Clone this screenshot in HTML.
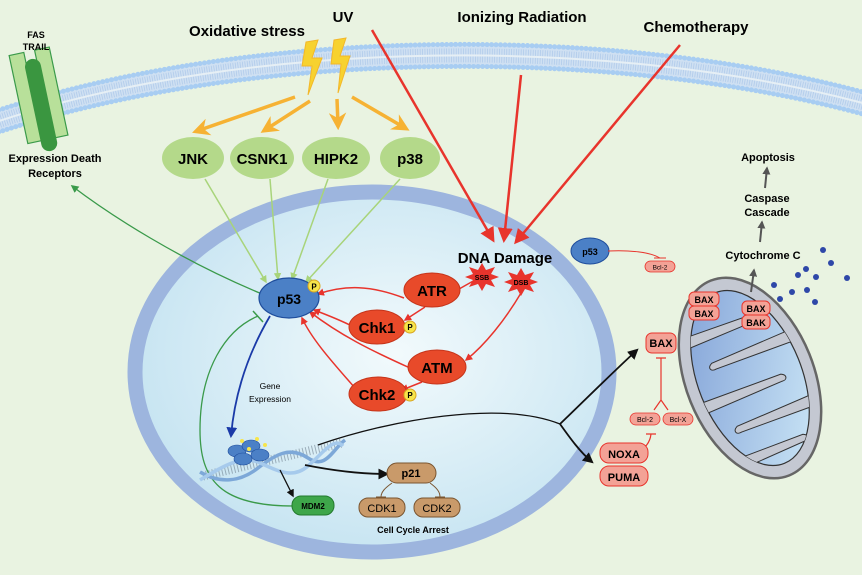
<!DOCTYPE html>
<html><head><meta charset="utf-8"><style>
html,body{margin:0;padding:0;background:#e9f3e1;}
svg{display:block;font-family:"Liberation Sans",sans-serif;}
</style></head><body>
<svg width="862" height="575" viewBox="0 0 862 575" xmlns="http://www.w3.org/2000/svg">
<defs>
<radialGradient id="nuc" cx="0.55" cy="0.45" r="0.6">
<stop offset="0" stop-color="#f2fafc"/><stop offset="1" stop-color="#c4e3f1"/></radialGradient>
<linearGradient id="mit" x1="0" y1="0" x2="1" y2="1">
<stop offset="0" stop-color="#7f9fd6"/><stop offset="1" stop-color="#cfeaf8"/></linearGradient>
<clipPath id="mclip"><ellipse cx="0" cy="0" rx="52" ry="92"/></clipPath>
<marker id="ar" viewBox="0 0 10 10" refX="8" refY="5" markerWidth="5" markerHeight="5" orient="auto"><path d="M0,0L10,5L0,10z" fill="#e8342c"/></marker>
<marker id="arB" viewBox="0 0 10 10" refX="8" refY="5" markerWidth="6" markerHeight="6" orient="auto"><path d="M0,0L10,5L0,10z" fill="#e8342c"/></marker>
<marker id="ag" viewBox="0 0 10 10" refX="8" refY="5" markerWidth="5" markerHeight="5" orient="auto"><path d="M0,0L10,5L0,10z" fill="#a8d47a"/></marker>
<marker id="agr" viewBox="0 0 10 10" refX="8" refY="5" markerWidth="6" markerHeight="6" orient="auto"><path d="M0,0L10,5L0,10z" fill="#3a9a4a"/></marker>
<marker id="abl" viewBox="0 0 10 10" refX="8" refY="5" markerWidth="6" markerHeight="6" orient="auto"><path d="M0,0L10,5L0,10z" fill="#1a3aa8"/></marker>
<marker id="ak" viewBox="0 0 10 10" refX="8" refY="5" markerWidth="6" markerHeight="6" orient="auto"><path d="M0,0L10,5L0,10z" fill="#111"/></marker>
<marker id="agy" viewBox="0 0 10 10" refX="8" refY="5" markerWidth="4" markerHeight="4" orient="auto"><path d="M0,0L10,5L0,10z" fill="#555"/></marker>
<marker id="ao" viewBox="0 0 10 10" refX="7" refY="5" markerWidth="5" markerHeight="5" orient="auto"><path d="M0,0L10,5L0,10L3,5z" fill="#f6b233"/></marker>
</defs>

<!-- membrane -->
<g fill="none">
<path d="M-10 124 C250 36,620 36,870 105" stroke="#cfe0f2" stroke-width="24"/>
<path d="M-10 124 C250 36,620 36,870 105" stroke="#a9c6e8" stroke-width="14" stroke-dasharray="0.8 1.6" opacity="0.8"/>
<path d="M-10 124 C250 36,620 36,870 105" stroke="#e6eff5" stroke-width="2"/>
<path d="M-10 113 C250 25,620 25,870 94" stroke="#a8cdf2" stroke-width="5" stroke-dasharray="0.1 4.4" stroke-linecap="round"/>
<path d="M-10 135 C250 47,620 47,870 116" stroke="#a8cdf2" stroke-width="5" stroke-dasharray="0.1 4.4" stroke-linecap="round"/>
</g>

<!-- FAS receptor -->
<g transform="rotate(-12 40 95)">
<rect x="18" y="50" width="15" height="90" fill="#b8e09a" stroke="#3a9a4a" stroke-width="1.2"/>
<rect x="44" y="50" width="15" height="90" fill="#b8e09a" stroke="#3a9a4a" stroke-width="1.2"/>
<rect x="31" y="58" width="16" height="94" rx="8" fill="#3a9640"/>
</g>
<text x="36" y="38" font-size="9" font-weight="bold" text-anchor="middle">FAS</text>
<text x="36" y="50" font-size="9" font-weight="bold" text-anchor="middle">TRAIL</text>
<text x="55" y="162" font-size="11" font-weight="bold" text-anchor="middle">Expression Death</text>
<text x="55" y="177" font-size="11" font-weight="bold" text-anchor="middle">Receptors</text>

<!-- top labels -->
<text x="247" y="36" font-size="15" font-weight="bold" text-anchor="middle">Oxidative stress</text>
<text x="343" y="22" font-size="15" font-weight="bold" text-anchor="middle">UV</text>
<text x="522" y="22" font-size="15" font-weight="bold" text-anchor="middle">Ionizing Radiation</text>
<text x="696" y="32" font-size="15" font-weight="bold" text-anchor="middle">Chemotherapy</text>

<!-- nucleus -->
<ellipse cx="372" cy="372" rx="237" ry="180" fill="url(#nuc)" stroke="#9db5de" stroke-width="15"/>

<!-- lightning -->
<path d="M306 42 L318 40 L312 58 L322 58 L308 95 L312 66 L302 66 Z" fill="#f7d22f" stroke="#f3b72a" stroke-width="1"/>
<path d="M334 40 L346 38 L340 56 L350 56 L338 93 L341 64 L331 64 Z" fill="#f7d22f" stroke="#f3b72a" stroke-width="1"/>

<!-- orange arrows -->
<g stroke="#f6b233" stroke-width="3.5" fill="none" marker-end="url(#ao)">
<path d="M295 97 L197 131"/>
<path d="M310 101 L265 130"/>
<path d="M337 99 L338 125"/>
<path d="M352 97 L405 128"/>
</g>

<!-- kinase ellipses -->
<g fill="#b4d98a">
<ellipse cx="193" cy="158" rx="31" ry="21"/>
<ellipse cx="262" cy="158" rx="32" ry="21"/>
<ellipse cx="336" cy="158" rx="34" ry="21"/>
<ellipse cx="410" cy="158" rx="30" ry="21"/>
</g>
<g font-size="15" font-weight="bold" text-anchor="middle">
<text x="193" y="164">JNK</text><text x="262" y="164">CSNK1</text><text x="336" y="164">HIPK2</text><text x="410" y="164">p38</text>
</g>
<g stroke="#a8d47a" stroke-width="1.5" fill="none" marker-end="url(#ag)">
<path d="M205 179 L266 282"/>
<path d="M270 179 L278 279"/>
<path d="M328 179 L292 279"/>
<path d="M400 179 L306 282"/>
</g>

<!-- red stimulus lines -->
<g stroke="#e8342c" stroke-width="2.5" fill="none" marker-end="url(#arB)">
<path d="M372 30 L493 240"/>
<path d="M521 75 L504 240"/>
<path d="M680 45 L516 242"/>
</g>

<!-- green arrow to receptors -->
<path d="M262 294 C180 260,110 215,72 186" stroke="#3a9a4a" stroke-width="1.3" fill="none" marker-end="url(#agr)"/>
<!-- green inhibition MDM2 -> p53 -->
<path d="M294 506 C220 506,200 480,200 430 C200 370,225 330,258 316" stroke="#3a9a4a" stroke-width="1.3" fill="none"/>
<path d="M253 311 L263 322" stroke="#3a9a4a" stroke-width="1.5"/>

<!-- red kinase arrows -->
<g stroke="#e8342c" stroke-width="1.5" fill="none" marker-end="url(#ar)">
<path d="M404 298 C370 285,345 285,318 294"/>
<path d="M425 307 L405 320"/>
<path d="M354 327 C340 320,330 316,314 310"/>
<path d="M410 368 C370 350,340 335,310 312"/>
<path d="M422 382 L402 390"/>
<path d="M355 388 C335 365,312 340,302 318"/>
<path d="M475 280 L452 293"/>
<path d="M521 293 C505 320,485 345,466 360"/>
</g>

<!-- p53 -->
<ellipse cx="289" cy="298" rx="30" ry="20" fill="#4b80c6" stroke="#1f4d9c" stroke-width="1.2"/>
<text x="289" y="304" font-size="14" font-weight="bold" text-anchor="middle">p53</text>
<circle cx="314" cy="286" r="6" fill="#f7e54b" stroke="#d8a520"/>
<text x="314" y="289.5" font-size="8" font-weight="bold" text-anchor="middle">P</text>

<!-- kinases -->
<g fill="#e84a2a" stroke="#c5341a" stroke-width="1">
<ellipse cx="432" cy="290" rx="28" ry="17"/>
<ellipse cx="377" cy="327" rx="28" ry="17"/>
<ellipse cx="437" cy="367" rx="29" ry="17"/>
<ellipse cx="378" cy="394" rx="29" ry="17"/>
</g>
<g font-size="15" font-weight="bold" text-anchor="middle">
<text x="432" y="296">ATR</text><text x="377" y="333">Chk1</text><text x="437" y="373">ATM</text><text x="377" y="400">Chk2</text>
</g>
<g fill="#f7e54b" stroke="#d8a520"><circle cx="410" cy="327" r="6"/><circle cx="410" cy="395" r="6"/></g>
<g font-size="8" font-weight="bold" text-anchor="middle"><text x="410" y="330">P</text><text x="410" y="398">P</text></g>

<!-- stars -->
<polygon points="482,263 486,270 495,267 491,274 499,277 491,280 495,287 486,284 482,291 478,284 469,287 473,280 465,277 473,274 469,267 478,270" fill="#e8342c"/>
<polygon points="521,268 525,275 534,272 530,279 538,282 530,285 534,292 525,289 521,296 517,289 508,292 512,285 504,282 512,279 508,272 517,275" fill="#e8342c"/>
<text x="482" y="280" font-size="7" font-weight="bold" text-anchor="middle">SSB</text>
<text x="521" y="285" font-size="7" font-weight="bold" text-anchor="middle">DSB</text>
<text x="505" y="263" font-size="15" font-weight="bold" text-anchor="middle">DNA Damage</text>

<!-- gene expression -->
<text x="270" y="389" font-size="8.5" text-anchor="middle">Gene</text>
<text x="270" y="402" font-size="8.5" text-anchor="middle">Expression</text>
<path d="M270 316 C250 350,235 390,231 436" stroke="#1a3aa8" stroke-width="1.8" fill="none" marker-end="url(#abl)"/>

<!-- DNA helix -->
<g fill="none">
<path d="M203 476 L342 443" stroke="#6a7a88" stroke-width="9" stroke-dasharray="1 2.2" opacity="0.55"/>
<path d="M200 472 C220 484,240 482,258 468 C276 454,290 446,308 458 C326 470,332 450,345 440" stroke="#7da8d8" stroke-width="3.5"/>
<path d="M200 480 C220 468,240 455,258 462 C276 470,292 480,308 466 C322 454,334 436,343 446" stroke="#a6caec" stroke-width="3.5"/>
</g>
<g fill="#4b80c6" stroke="#1f4d9c" stroke-width="0.6">
<ellipse cx="237" cy="451" rx="9" ry="6"/><ellipse cx="251" cy="446" rx="9" ry="6"/><ellipse cx="243" cy="459" rx="9" ry="6"/><ellipse cx="260" cy="455" rx="9" ry="6"/>
</g>
<g fill="#f7e54b"><circle cx="242" cy="441" r="2"/><circle cx="257" cy="439" r="2"/><circle cx="265" cy="445" r="2"/><circle cx="249" cy="449" r="2"/></g>

<!-- black arrows -->
<path d="M280 470 L293 496" stroke="#111" stroke-width="1.3" fill="none" marker-end="url(#ak)"/>
<path d="M305 465 C330 470,360 474,387 474" stroke="#111" stroke-width="1.8" fill="none" marker-end="url(#ak)"/>
<path d="M318 445 C390 420,500 400,560 424" stroke="#111" stroke-width="1.3" fill="none"/>
<path d="M560 424 C585 400,610 375,637 350" stroke="#111" stroke-width="1.8" fill="none" marker-end="url(#ak)"/>
<path d="M560 424 C570 438,580 452,592 462" stroke="#111" stroke-width="1.8" fill="none" marker-end="url(#ak)"/>

<!-- MDM2, p21 -->
<rect x="292" y="496" width="42" height="19" rx="9" fill="#3ea64a" stroke="#237a2e"/>
<text x="313" y="509" font-size="8" font-weight="bold" text-anchor="middle">MDM2</text>
<rect x="387" y="463" width="49" height="20" rx="10" fill="#c99a6a" stroke="#7a5530"/>
<text x="411" y="477" font-size="11" font-weight="bold" text-anchor="middle">p21</text>
<path d="M392 483 C385 488,381 492,381 497 M376 497 L386 497 M430 483 C437 488,440 492,440 497 M435 497 L445 497" stroke="#7a5530" stroke-width="1" fill="none"/>
<rect x="359" y="498" width="46" height="19" rx="9" fill="#c99a6a" stroke="#7a5530"/>
<rect x="414" y="498" width="46" height="19" rx="9" fill="#c99a6a" stroke="#7a5530"/>
<text x="382" y="512" font-size="11" text-anchor="middle">CDK1</text>
<text x="437" y="512" font-size="11" text-anchor="middle">CDK2</text>
<text x="413" y="533" font-size="9" font-weight="bold" text-anchor="middle">Cell Cycle Arrest</text>

<!-- p53 small and Bcl-2 -->
<ellipse cx="590" cy="251" rx="19" ry="13" fill="#4b80c6" stroke="#1f4d9c"/>
<text x="590" y="255" font-size="9" font-weight="bold" text-anchor="middle">p53</text>
<path d="M608 251 C630 250,650 252,660 258 M654 258 L666 258" stroke="#e8342c" stroke-width="1" fill="none"/>
<rect x="645" y="261" width="30" height="11" rx="5.5" fill="#f3a296" stroke="#e8342c" stroke-width="0.8"/>
<text x="660" y="269.5" font-size="6.5" text-anchor="middle">Bcl-2</text>

<!-- mitochondrion -->
<g transform="translate(750 378) rotate(-22)">
<ellipse cx="0" cy="0" rx="64" ry="105" fill="#c4c8d2" stroke="#666" stroke-width="2.5"/>
<ellipse cx="0" cy="0" rx="52" ry="92" fill="url(#mit)" stroke="#333" stroke-width="1.2"/>
<g clip-path="url(#mclip)" fill="#c4c8d2" stroke="#333" stroke-width="1">
<path d="M-60 -62 L30 -58 C36 -55,34 -50,28 -51 L-60 -50Z"/>
<path d="M60 -30 L-30 -28 C-36 -25,-34 -20,-28 -21 L60 -18Z"/>
<path d="M-60 5 L30 8 C36 11,34 16,28 15 L-60 17Z"/>
<path d="M60 38 L-30 40 C-36 43,-34 48,-28 47 L60 50Z"/>
<path d="M-60 70 L28 72 C34 75,32 80,26 79 L-60 82Z"/>
</g>
</g>
<g font-size="9" font-weight="bold" text-anchor="middle" >
<rect x="689" y="292" width="30" height="14" rx="5" fill="#f3a296" stroke="#e8342c"/><text x="704" y="303">BAX</text>
<rect x="689" y="306" width="30" height="14" rx="5" fill="#f3a296" stroke="#e8342c"/><text x="704" y="317">BAX</text>
<rect x="742" y="301" width="28" height="14" rx="5" fill="#f3a296" stroke="#e8342c"/><text x="756" y="312">BAX</text>
<rect x="742" y="315" width="28" height="14" rx="5" fill="#f3a296" stroke="#e8342c"/><text x="756" y="326">BAK</text>
</g>
<g fill="#2e47a8">
<circle cx="823" cy="250" r="3"/><circle cx="831" cy="263" r="3"/><circle cx="806" cy="269" r="3"/><circle cx="798" cy="275" r="3"/><circle cx="816" cy="277" r="3"/><circle cx="847" cy="278" r="3"/><circle cx="774" cy="285" r="3"/><circle cx="792" cy="292" r="3"/><circle cx="807" cy="290" r="3"/><circle cx="780" cy="299" r="3"/><circle cx="815" cy="302" r="3"/>
</g>

<!-- right pathway -->
<g stroke="#555" stroke-width="2" fill="none" marker-end="url(#agy)">
<path d="M751 292 L754 270"/><path d="M760 242 L762 222"/><path d="M765 188 L767 168"/>
</g>
<text x="763" y="259" font-size="11" font-weight="bold" text-anchor="middle">Cytochrome C</text>
<text x="767" y="202" font-size="11" font-weight="bold" text-anchor="middle">Caspase</text>
<text x="767" y="216" font-size="11" font-weight="bold" text-anchor="middle">Cascade</text>
<text x="768" y="161" font-size="11" font-weight="bold" text-anchor="middle">Apoptosis</text>

<rect x="646" y="333" width="30" height="20" rx="6" fill="#f3a296" stroke="#e8342c"/>
<text x="661" y="347" font-size="11" font-weight="bold" text-anchor="middle">BAX</text>
<g stroke="#e8342c" stroke-width="1.2" fill="none">
<path d="M656 358 L666 358 M661 358 L661 400 L654 410 M661 400 L668 410"/>
<path d="M646 434 L656 434 M651 434 C650 443,645 448,638 452"/>
</g>
<rect x="630" y="413" width="30" height="12" rx="6" fill="#f3a296" stroke="#e8342c" stroke-width="0.8"/>
<rect x="663" y="413" width="30" height="12" rx="6" fill="#f3a296" stroke="#e8342c" stroke-width="0.8"/>
<text x="645" y="422" font-size="7" text-anchor="middle">Bcl-2</text>
<text x="678" y="422" font-size="7" text-anchor="middle">Bcl-X</text>
<rect x="600" y="443" width="48" height="20" rx="9" fill="#f3a296" stroke="#e8342c"/>
<rect x="600" y="466" width="48" height="20" rx="9" fill="#f3a296" stroke="#e8342c"/>
<text x="624" y="458" font-size="11" font-weight="bold" text-anchor="middle">NOXA</text>
<text x="624" y="481" font-size="11" font-weight="bold" text-anchor="middle">PUMA</text>
</svg>
</body></html>
